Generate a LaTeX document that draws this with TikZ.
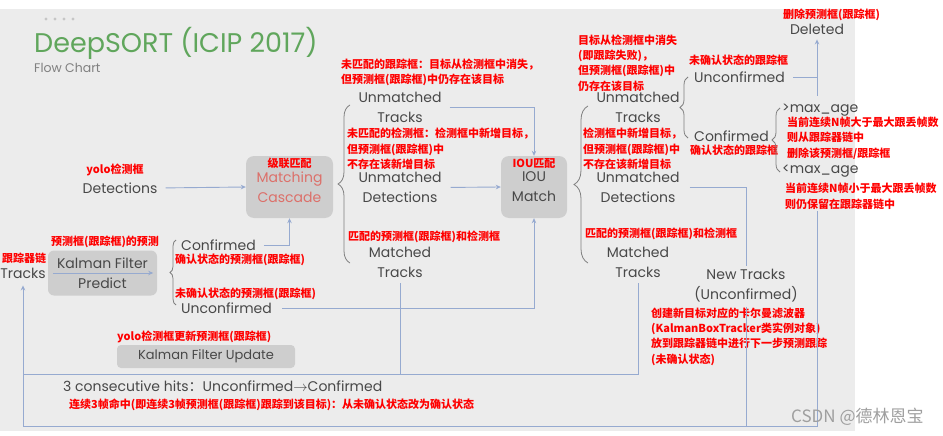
\documentclass[tikz,border=0pt]{standalone}
\usepackage{fontspec}
\setmainfont{Poppins}
\newfontfamily\cjk{Noto Sans CJK SC}
\usetikzlibrary{arrows.meta}
\usetikzlibrary{decorations.pathreplacing}
\definecolor{bg}{RGB}{236,236,236}
\definecolor{txt}{RGB}{72,72,72}
\definecolor{lnk}{RGB}{150,170,208}
\definecolor{ttl}{RGB}{96,166,92}
\definecolor{boxf}{RGB}{206,206,206}
\definecolor{mcred}{RGB}{220,112,106}

\begin{document}
\begin{tikzpicture}[x=1pt, y=-1pt,
  lbl/.style={inner sep=0pt, text=txt, font=\fontsize{14}{20}\selectfont, align=center},
  note/.style={inner sep=0pt, text=red, font=\cjk\bfseries\fontsize{11}{15.4}\selectfont, align=left},
  stage/.style={fill=boxf, rounded corners=8pt, inner sep=0pt},
  link/.style={draw=lnk, line width=0.9pt},
  arr/.style={link, -{Stealth[length=5pt, width=4.5pt]}},
  brc/.style={draw=gray, line width=0.8pt, decorate, decoration={brace, amplitude=#1}}]

\fill[bg] (0,9) rectangle (855,431);
\useasboundingbox (0,0) rectangle (943,436);

\foreach \x in {46,55,64,73} \fill[gray!45] (\x,19) circle (1.7pt);
\node[anchor=west, inner sep=0pt, text=ttl, font=\fontsize{27}{30}\selectfont] (Title) at (34,43) {DeepSORT (ICIP 2017)};
\node[anchor=west, inner sep=0pt, text=gray, font=\fontsize{12.5}{14}\selectfont] (Sub) at (34,68) {Flow Chart};

\node[note] (DetNote) at (115,170) {yolo检测框};
\node[lbl] (Det) at (120,188) {Detections};

\node[stage, lbl, text=mcred, minimum width=87pt, minimum height=62pt] (MC) at (289.5,187) {Matching\\Cascade};
\node[note] (MCNote) at (289.5,163) {级联匹配};
\draw[arr, shorten <=8pt] (Det.east) -- (MC.west);

\node[note, anchor=west] (TrkNote) at (2,258) {跟踪器链};
\node[lbl] (Trk) at (23,273) {Tracks};
\node[stage, lbl, rounded corners=6pt, minimum width=109pt, minimum height=45pt] (KFP) at (102.5,273) {Kalman Filter\\Predict};
\node[note] (KFPNote) at (105,242) {预测框(跟踪框)的预测};
\draw[arr, shorten <=7pt] (Trk.east) -- ([xshift=-4pt]KFP.east);

\draw[brc=6] (176,305) -- (176,240);
\node[lbl, anchor=west] (ConfL) at (181,245) {Confirmed};
\node[note, anchor=west] (ConfLNote) at (175,260) {确认状态的预测框(跟踪框)};
\node[note, anchor=west] (UncfLNote) at (175,294) {未确认状态的预测框(跟踪框)};
\node[lbl, anchor=west] (UncfL) at (181,308) {Unconfirmed};

\draw[brc=12] (350,263) -- (350,105);
\node[note, anchor=west] (UTLNote) at (341,72.5) {未匹配的跟踪框：目标从检测框中消失，\\但预测框(跟踪框)中仍存在该目标};
\node[lbl] (UTL) at (400,107) {Unmatched\\Tracks};
\node[note, anchor=west] (UDLNote) at (347,149) {未匹配的检测框：检测框中新增目标，\\但预测框(跟踪框)中\\不存在该新增目标};
\node[lbl] (UDL) at (400,187.5) {Unmatched\\Detections};
\node[note, anchor=west] (MTLNote) at (348,237) {匹配的预测框(跟踪框)和检测框};
\node[lbl] (MTL) at (400,262) {Matched\\Tracks};

\node[stage, lbl, minimum width=66pt, minimum height=62pt] (IOU) at (534,187) {IOU\\Match};
\node[note] (IOUNote) at (534,163) {IOU匹配};

\draw[arr, shorten <=8pt] (ConfL.east) -| (MC.south);
\draw[arr, shorten <=10pt] (UncfL.east) -| (IOU.south);
\draw[arr, shorten <=8pt] (UTL.east) -| (IOU.north);
\draw[arr, shorten <=9pt] (UDL.east) -- (IOU.west);

\draw[brc=14] (588,263) -- (588,106);
\node[note, anchor=west] (UTRNote) at (578,63) {目标从检测框中消失\\(即跟踪失败)，\\但预测框(跟踪框)中\\仍存在该目标};
\node[lbl] (UTR) at (638,107) {Unmatched\\Tracks};
\node[note, anchor=west] (UDRNote) at (583,149) {检测框中新增目标，\\但预测框(跟踪框)中\\不存在该新增目标};
\node[lbl] (UDR) at (638,187.5) {Unmatched\\Detections};
\node[note, anchor=west] (MTRNote) at (585,234) {匹配的预测框(跟踪框)和检测框};
\node[lbl] (MTR) at (638,262) {Matched\\Tracks};

\draw[brc=8] (688,138) -- (688,77);
\node[note, anchor=west] (UCRNote) at (689,60) {未确认状态的跟踪框};
\node[lbl, anchor=west] (UCR) at (694,77) {Unconfirmed};
\node[lbl, anchor=west] (CR) at (694,136) {Confirmed};
\node[note, anchor=west] (CRNote) at (690,150) {确认状态的跟踪框};

\draw[brc=8] (780,172) -- (780,108);
\node[lbl, anchor=west] (GA) at (782,110) {>max\_age};
\node[note, anchor=west] (GANote) at (787,138) {当前连续N帧大于最大跟丢帧数\\则从跟踪器链中\\删除该预测框/跟踪框};
\node[lbl, anchor=west] (LA) at (782,171) {<max\_age};
\node[note, anchor=west] (LANote) at (785,196.5) {当前连续N帧小于最大跟丢帧数\\则仍保留在跟踪器链中};
\node[note, anchor=west] (DLNote) at (783,15) {删除预测框(跟踪框)};
\node[lbl] (DL) at (817,29) {Deleted};

\draw[arr, shorten <=8pt, shorten >=5pt] (DL.south |- GA.north) -- (DL.south);
\draw[link, shorten <=8pt] (UCR.east) -- (UCR.east -| DL.south);

\node[lbl] (NT) at (746,286) {New Tracks\\(Unconfirmed)};
\node[note, anchor=west] (NTNote) at (651,336.5) {创建新目标对应的卡尔曼滤波器\\(KalmanBoxTracker类实例对象)\\放到跟踪器链中进行下一步预测跟踪\\(未确认状态)};
\draw[link, shorten <=10pt, shorten >=3pt] (UDR.east) -| (NT.north);

\node[stage, lbl, rounded corners=4pt, minimum width=178pt, minimum height=23pt, font=\fontsize{13}{15}\selectfont] (KFU) at (206,356.5) {Kalman Filter Update};
\node[note, anchor=west] (KFUNote) at (117,337) {yolo检测框更新预测框(跟踪框)};
\node[lbl, anchor=west] (Hits) at (63,386) {3 consecutive hits{\cjk ：}Unconfirmed$\to$Confirmed};
\node[note, anchor=west] (HitsNote) at (69,405) {连续3帧命中(即连续3帧预测框(跟踪框)跟踪到该目标)：从未确认状态改为确认状态};

\coordinate (Mid) at (23,374);
\coordinate (Bot) at (23,426);
\draw[link, shorten <=6pt] (MTR.south) |- (Mid);
\draw[link, shorten <=6pt] (MTL.south) -- (MTL.south |- Mid);
\draw[link, shorten <=4pt] (NT.south) |- (Bot);
\draw[link, shorten <=34pt] (DL.south |- LA.south) |- (Bot);
\draw[arr, shorten >=7pt] (Bot) -- (Trk.south);

\node[anchor=west, inner sep=0pt, text=gray!75, font=\cjk\fontsize{17}{19}\selectfont] (Mark) at (791,417) {CSDN @德林恩宝};

\end{tikzpicture}
\end{document}
